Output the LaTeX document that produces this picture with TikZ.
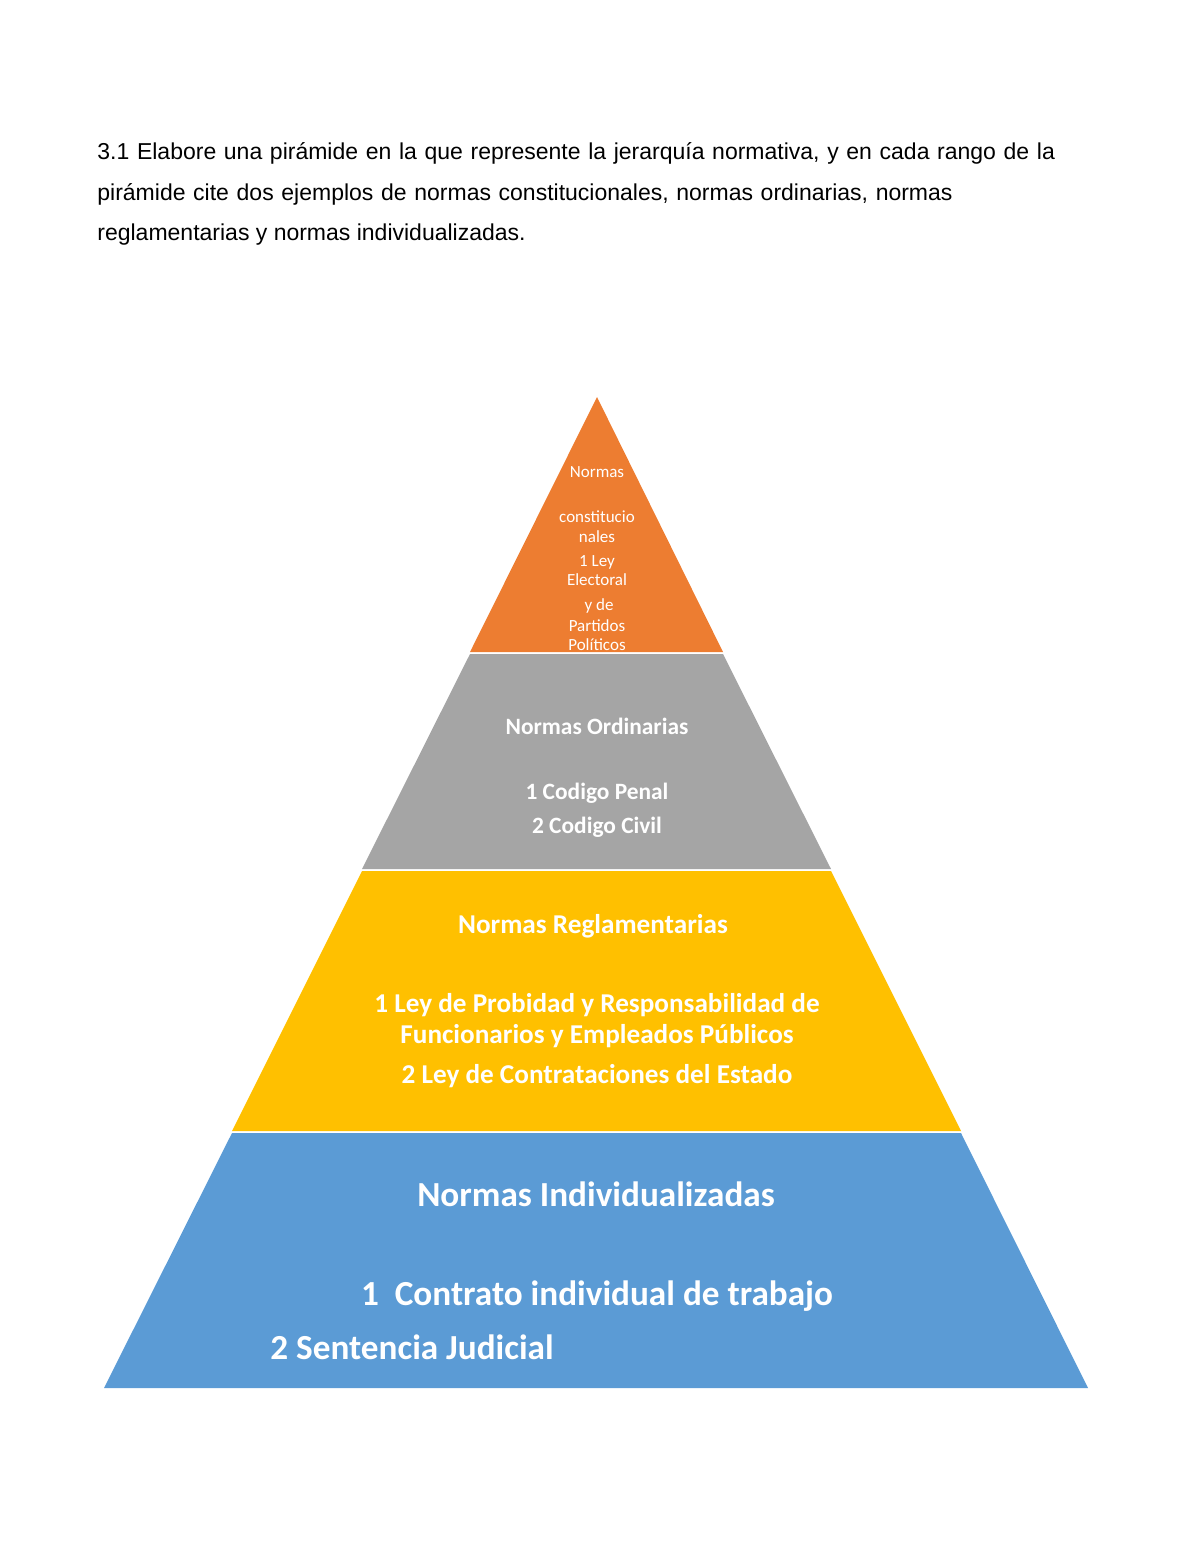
\documentclass[tikz,border=0pt]{standalone}
\usepackage{fontspec}
\setmainfont{Liberation Sans}
\newfontfamily\calibri{Carlito}
\definecolor{tierorange}{HTML}{ED7D31}
\definecolor{tiergray}{HTML}{A5A5A5}
\definecolor{tiergold}{HTML}{FFC000}
\definecolor{tierblue}{HTML}{5B9BD5}
\begin{document}
\begin{tikzpicture}[x=0.5pt, y=-0.5pt,
  heading/.style = {anchor=west, inner sep=0pt, text width=505.5pt,
    font=\fontsize{11.5}{14}\selectfont, execute at begin node={\parfillskip=0pt}},
  label/.style = {text=white, font=\calibri, inner sep=0pt, align=center},
  small/.style = {label, font=\calibri\fontsize{8.5}{10}\selectfont},
  mid/.style = {label, font=\calibri\bfseries\fontsize{11.7}{14}\selectfont},
  big/.style = {label, font=\calibri\bfseries\fontsize{13.6}{16}\selectfont},
  huge/.style = {label, font=\calibri\bfseries\fontsize{17.6}{21}\selectfont}]
\useasboundingbox (0,0) rectangle (1200,1553);
% heading
\node[heading] (h1) at (97,153) {3.1 Elabore una pirámide en la que represente la jerarquía normativa, y en cada rango de la};
\node[heading] (h2) at (97,194) {pirámide cite dos ejemplos de normas constitucionales, normas ordinarias, normas};
\node[anchor=west, inner sep=0pt, font=\fontsize{11.5}{14}\selectfont] (h3) at (97,235) {reglamentarias y normas individualizadas.};
% tiers
\fill[tierorange] (597,397) -- (723,652) -- (470,652) -- cycle;
\fill[tiergray] (470,654) -- (723,654) -- (831,869) -- (362,869) -- cycle;
\fill[tiergold] (362,871) -- (831,871) -- (961,1131) -- (232,1131) -- cycle;
\fill[tierblue] (232,1133) -- (961,1133) -- (1088,1388) -- (104,1388) -- cycle;
% constitucionales
\begin{scope}
\clip (597,397) -- (723,651) -- (470,651) -- cycle;
\node[small] (c1) at (597,472) {Normas};
\node[small] (c2) at (597,517) {constitucio};
\node[small] (c3) at (597,537) {nales};
\node[small] (c4) at (597,562) {1 Ley};
\node[small] (c5) at (597,580) {Electoral};
\node[small] (c6) at (599,606) {y de};
\node[small] (c7) at (597,626) {Partidos};
\node[small] (c8) at (597,645) {Políticos};
\end{scope}
% ordinarias
\node[mid] (o1) at (597,726) {Normas Ordinarias};
\node[mid] (o2) at (597,793) {1 Codigo Penal};
\node[mid] (o3) at (597,827) {2 Codigo Civil};
% reglamentarias
\node[big] (r1) at (593,926) {Normas Reglamentarias};
\node[big] (r2) at (597,1005) {1 Ley de Probidad y Responsabilidad de};
\node[big] (r3) at (597,1036) {Funcionarios y Empleados Públicos};
\node[big] (r4) at (597,1076) {2 Ley de Contrataciones del Estado};
% individualizadas
\node[huge] (i1) at (596,1194) {Normas Individualizadas};
\node[huge] (i2) at (597,1296) {1\ \ Contrato individual de trabajo};
\node[huge, anchor=west] (i3) at (270,1347) {2 Sentencia Judicial};
\end{tikzpicture}
\end{document}
